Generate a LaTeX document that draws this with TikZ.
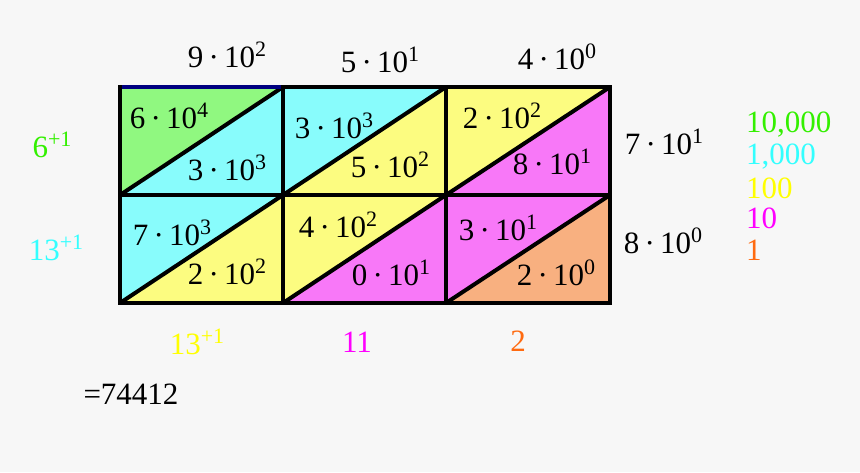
\documentclass[tikz,border=0pt]{standalone}
\usepackage{fontspec}
\setmainfont{Liberation Serif}
\usepackage{tikz}

\definecolor{bgray}{HTML}{F7F7F7}
\definecolor{fgreen}{HTML}{90F880}
\definecolor{fcyan}{HTML}{88FCFC}
\definecolor{fyellow}{HTML}{FCFC80}
\definecolor{fmagenta}{HTML}{F878F8}
\definecolor{forange}{HTML}{F8B080}
\definecolor{tgreen}{HTML}{33F000}
\definecolor{tcyan}{HTML}{33FFFF}
\definecolor{tyellow}{HTML}{FFFF00}
\definecolor{tmagenta}{HTML}{FF00FF}
\definecolor{torange}{HTML}{FF6A10}
\definecolor{topnavy}{HTML}{000080}

\begin{document}
\begin{tikzpicture}[x=1pt, y=-1pt,
		txt/.style={inner sep=0pt, font=\fontsize{31}{36}\selectfont},
		grid/.style={black, line width=4pt, line join=miter}]
		\def\up#1{\raisebox{0.34em}{\fontsize{22}{22}\selectfont #1}}
		\def\tp#1#2{#1\,·\,10\up{#2}}
		\fill [bgray] (0, 0) rectangle (860, 472);
		\useasboundingbox (0, 0) rectangle (860, 472);
		% upper row of cells
		\fill [fgreen] (120, 195) -- (120, 87) -- (283, 87) -- cycle;
		\fill [fcyan] (120, 195) -- (283, 87) -- (283, 195) -- cycle;
		\fill [fcyan] (283, 195) -- (283, 87) -- (446, 87) -- cycle;
		\fill [fyellow] (283, 195) -- (446, 87) -- (446, 195) -- cycle;
		\fill [fyellow] (446, 195) -- (446, 87) -- (610, 87) -- cycle;
		\fill [fmagenta] (446, 195) -- (610, 87) -- (610, 195) -- cycle;
		% lower row of cells
		\fill [fcyan] (120, 303) -- (120, 195) -- (283, 195) -- cycle;
		\fill [fyellow] (120, 303) -- (283, 195) -- (283, 303) -- cycle;
		\fill [fyellow] (283, 303) -- (283, 195) -- (446, 195) -- cycle;
		\fill [fmagenta] (283, 303) -- (446, 195) -- (446, 303) -- cycle;
		\fill [fmagenta] (446, 303) -- (446, 195) -- (610, 195) -- cycle;
		\fill [forange] (446, 303) -- (610, 195) -- (610, 303) -- cycle;
		% lattice
		\draw [grid] (120, 87) rectangle (610, 303);
		\draw [grid] (283, 87) -- (283, 303);
		\draw [grid] (446, 87) -- (446, 303);
		\draw [grid] (120, 195) -- (610, 195);
		\draw [grid] (120, 195) -- (283, 87);
		\draw [grid] (283, 195) -- (446, 87);
		\draw [grid] (446, 195) -- (610, 87);
		\draw [grid] (120, 303) -- (283, 195);
		\draw [grid] (283, 303) -- (446, 195);
		\draw [grid] (446, 303) -- (610, 195);
		\draw [topnavy, line width=4pt] (122, 87) -- (281, 87);
		% partial products
		\node [txt] (c11u) at (169, 116) {\tp{6}{4}};
		\node [txt] (c11l) at (227, 168) {\tp{3}{3}};
		\node [txt] (c12u) at (334, 126) {\tp{3}{3}};
		\node [txt] (c12l) at (390, 165) {\tp{5}{2}};
		\node [txt] (c13u) at (502, 116) {\tp{2}{2}};
		\node [txt] (c13l) at (552, 162) {\tp{8}{1}};
		\node [txt] (c21u) at (172, 233) {\tp{7}{3}};
		\node [txt] (c21l) at (227, 272) {\tp{2}{2}};
		\node [txt] (c22u) at (338, 225) {\tp{4}{2}};
		\node [txt] (c22l) at (391, 273) {\tp{0}{1}};
		\node [txt] (c23u) at (498, 228) {\tp{3}{1}};
		\node [txt] (c23l) at (556, 273) {\tp{2}{0}};
		% factors
		\node [txt] (top1) at (227, 55) {\tp{9}{2}};
		\node [txt] (top2) at (380, 60) {\tp{5}{1}};
		\node [txt] (top3) at (557, 57) {\tp{4}{0}};
		\node [txt] (right1) at (664, 142) {\tp{7}{1}};
		\node [txt] (right2) at (663, 241) {\tp{8}{0}};
		% diagonal sums
		\node [txt, tgreen] (sum1) at (52, 145) {6\up{+1}};
		\node [txt, tcyan] (sum2) at (56, 248) {13\up{+1}};
		\node [txt, tyellow] (sum3) at (197, 342) {13\up{+1}};
		\node [txt, tmagenta] (sum4) at (357, 342) {11};
		\node [txt, torange] (sum5) at (518, 341) {2};
		\node [txt] (result) at (131, 394) {=74412};
		% place values
		\node [txt, tgreen, anchor=west] (val1) at (746, 125) {10,000};
		\node [txt, tcyan, anchor=west] (val2) at (746, 157) {1,000};
		\node [txt, tyellow, anchor=west] (val3) at (746, 188) {100};
		\node [txt, tmagenta, anchor=west] (val4) at (746, 218) {10};
		\node [txt, torange, anchor=west] (val5) at (746, 250) {1};
	\end{tikzpicture}
\end{document}
